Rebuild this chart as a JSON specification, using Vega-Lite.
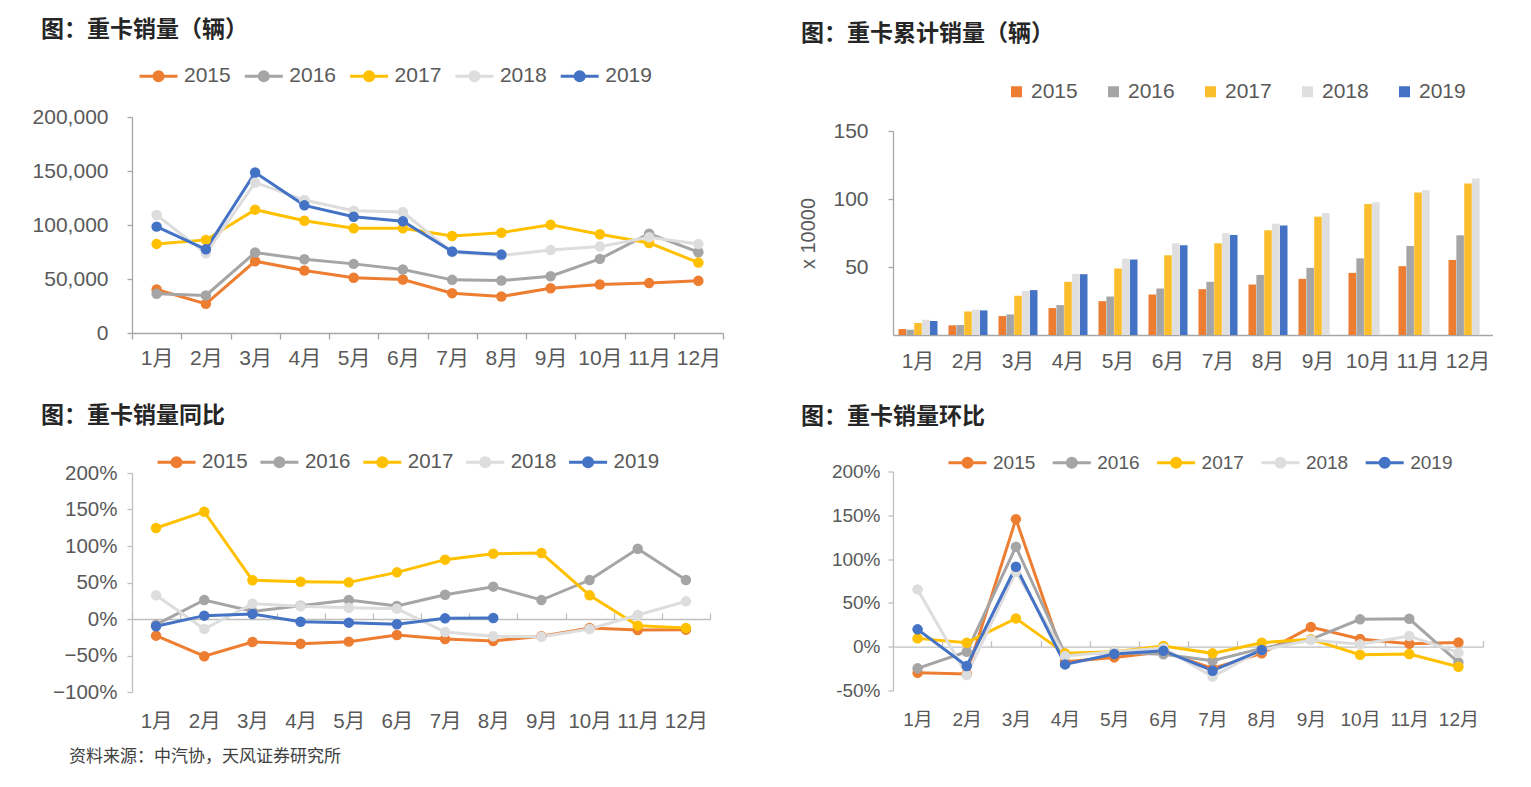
{
  "$schema": "https://vega.github.io/schema/vega-lite/v6.json",
  "background": "white",
  "padding": {"left": 32, "top": 19, "right": 0, "bottom": 0},
  "datasets": {
    "sales": [
      {"m":"1月","y":"2015","v":40300},{"m":"2月","y":"2015","v":27000},{"m":"3月","y":"2015","v":66500},{"m":"4月","y":"2015","v":57800},{"m":"5月","y":"2015","v":51100},{"m":"6月","y":"2015","v":49500},{"m":"7月","y":"2015","v":36900},{"m":"8月","y":"2015","v":33800},{"m":"9月","y":"2015","v":41500},{"m":"10月","y":"2015","v":44900},{"m":"11月","y":"2015","v":46200},{"m":"12月","y":"2015","v":48300},
      {"m":"1月","y":"2016","v":36300},{"m":"2月","y":"2016","v":34800},{"m":"3月","y":"2016","v":74500},{"m":"4月","y":"2016","v":68300},{"m":"5月","y":"2016","v":64000},{"m":"6月","y":"2016","v":58800},{"m":"7月","y":"2016","v":49200},{"m":"8月","y":"2016","v":48600},{"m":"9月","y":"2016","v":52600},{"m":"10月","y":"2016","v":68600},{"m":"11月","y":"2016","v":92000},{"m":"12月","y":"2016","v":74800},
      {"m":"1月","y":"2017","v":82500},{"m":"2月","y":"2017","v":86200},{"m":"3月","y":"2017","v":114200},{"m":"4月","y":"2017","v":104000},{"m":"5月","y":"2017","v":96900},{"m":"6月","y":"2017","v":96900},{"m":"7月","y":"2017","v":89800},{"m":"8月","y":"2017","v":92900},{"m":"9月","y":"2017","v":100300},{"m":"10月","y":"2017","v":91400},{"m":"11月","y":"2017","v":83400},{"m":"12月","y":"2017","v":65200},
      {"m":"1月","y":"2018","v":109200},{"m":"2月","y":"2018","v":73800},{"m":"3月","y":"2018","v":139400},{"m":"4月","y":"2018","v":123100},{"m":"5月","y":"2018","v":113200},{"m":"6月","y":"2018","v":112000},{"m":"7月","y":"2018","v":74800},{"m":"8月","y":"2018","v":71700},{"m":"9月","y":"2018","v":76900},{"m":"10月","y":"2018","v":80000},{"m":"11月","y":"2018","v":88600},{"m":"12月","y":"2018","v":82500},
      {"m":"1月","y":"2019","v":98500},{"m":"2月","y":"2019","v":77500},{"m":"3月","y":"2019","v":148600},{"m":"4月","y":"2019","v":118200},{"m":"5月","y":"2019","v":107700},{"m":"6月","y":"2019","v":103400},{"m":"7月","y":"2019","v":75400},{"m":"8月","y":"2019","v":72600}
    ],
    "cum": [
      {"m":"1月","y":"2015","v":4.4},{"m":"2月","y":"2015","v":7.1},{"m":"3月","y":"2015","v":13.9},{"m":"4月","y":"2015","v":19.8},{"m":"5月","y":"2015","v":24.9},{"m":"6月","y":"2015","v":29.8},{"m":"7月","y":"2015","v":33.7},{"m":"8月","y":"2015","v":37.1},{"m":"9月","y":"2015","v":41.3},{"m":"10月","y":"2015","v":45.7},{"m":"11月","y":"2015","v":50.6},{"m":"12月","y":"2015","v":55.2},
      {"m":"1月","y":"2016","v":3.9},{"m":"2月","y":"2016","v":7.3},{"m":"3月","y":"2016","v":15.1},{"m":"4月","y":"2016","v":22.0},{"m":"5月","y":"2016","v":28.3},{"m":"6月","y":"2016","v":34.2},{"m":"7月","y":"2016","v":39.1},{"m":"8月","y":"2016","v":44.2},{"m":"9月","y":"2016","v":49.4},{"m":"10月","y":"2016","v":56.4},{"m":"11月","y":"2016","v":65.5},{"m":"12月","y":"2016","v":73.3},
      {"m":"1月","y":"2017","v":8.8},{"m":"2月","y":"2017","v":17.3},{"m":"3月","y":"2017","v":28.8},{"m":"4月","y":"2017","v":39.1},{"m":"5月","y":"2017","v":48.9},{"m":"6月","y":"2017","v":58.6},{"m":"7月","y":"2017","v":67.4},{"m":"8月","y":"2017","v":77.0},{"m":"9月","y":"2017","v":87.0},{"m":"10月","y":"2017","v":96.3},{"m":"11月","y":"2017","v":104.8},{"m":"12月","y":"2017","v":111.4},
      {"m":"1月","y":"2018","v":11.2},{"m":"2月","y":"2018","v":18.6},{"m":"3月","y":"2018","v":32.5},{"m":"4月","y":"2018","v":45.0},{"m":"5月","y":"2018","v":56.2},{"m":"6月","y":"2018","v":67.4},{"m":"7月","y":"2018","v":74.8},{"m":"8月","y":"2018","v":81.8},{"m":"9月","y":"2018","v":89.7},{"m":"10月","y":"2018","v":97.7},{"m":"11月","y":"2018","v":106.5},{"m":"12月","y":"2018","v":115.0},
      {"m":"1月","y":"2019","v":10.3},{"m":"2月","y":"2019","v":18.1},{"m":"3月","y":"2019","v":33.0},{"m":"4月","y":"2019","v":44.7},{"m":"5月","y":"2019","v":55.5},{"m":"6月","y":"2019","v":66.0},{"m":"7月","y":"2019","v":73.5},{"m":"8月","y":"2019","v":80.6}
    ],
    "yoy": [
      {"m":"1月","y":"2015","v":-0.228},{"m":"2月","y":"2015","v":-0.51},{"m":"3月","y":"2015","v":-0.315},{"m":"4月","y":"2015","v":-0.338},{"m":"5月","y":"2015","v":-0.31},{"m":"6月","y":"2015","v":-0.219},{"m":"7月","y":"2015","v":-0.274},{"m":"8月","y":"2015","v":-0.301},{"m":"9月","y":"2015","v":-0.237},{"m":"10月","y":"2015","v":-0.123},{"m":"11月","y":"2015","v":-0.15},{"m":"12月","y":"2015","v":-0.146},
      {"m":"1月","y":"2016","v":-0.078},{"m":"2月","y":"2016","v":0.26},{"m":"3月","y":"2016","v":0.105},{"m":"4月","y":"2016","v":0.183},{"m":"5月","y":"2016","v":0.26},{"m":"6月","y":"2016","v":0.178},{"m":"7月","y":"2016","v":0.333},{"m":"8月","y":"2016","v":0.443},{"m":"9月","y":"2016","v":0.26},{"m":"10月","y":"2016","v":0.534},{"m":"11月","y":"2016","v":0.963},{"m":"12月","y":"2016","v":0.534},
      {"m":"1月","y":"2017","v":1.247},{"m":"2月","y":"2017","v":1.47},{"m":"3月","y":"2017","v":0.53},{"m":"4月","y":"2017","v":0.511},{"m":"5月","y":"2017","v":0.502},{"m":"6月","y":"2017","v":0.639},{"m":"7月","y":"2017","v":0.813},{"m":"8月","y":"2017","v":0.895},{"m":"9月","y":"2017","v":0.904},{"m":"10月","y":"2017","v":0.324},{"m":"11月","y":"2017","v":-0.091},{"m":"12月","y":"2017","v":-0.123},
      {"m":"1月","y":"2018","v":0.324},{"m":"2月","y":"2018","v":-0.137},{"m":"3月","y":"2018","v":0.21},{"m":"4月","y":"2018","v":0.174},{"m":"5月","y":"2018","v":0.155},{"m":"6月","y":"2018","v":0.142},{"m":"7月","y":"2018","v":-0.178},{"m":"8月","y":"2018","v":-0.237},{"m":"9月","y":"2018","v":-0.242},{"m":"10月","y":"2018","v":-0.137},{"m":"11月","y":"2018","v":0.055},{"m":"12月","y":"2018","v":0.242},
      {"m":"1月","y":"2019","v":-0.10},{"m":"2月","y":"2019","v":0.046},{"m":"3月","y":"2019","v":0.068},{"m":"4月","y":"2019","v":-0.037},{"m":"5月","y":"2019","v":-0.05},{"m":"6月","y":"2019","v":-0.073},{"m":"7月","y":"2019","v":0.009},{"m":"8月","y":"2019","v":0.014}
    ],
    "mom": [
      {"m":"1月","y":"2015","v":-0.297},{"m":"2月","y":"2015","v":-0.312},{"m":"3月","y":"2015","v":1.456},{"m":"4月","y":"2015","v":-0.171},{"m":"5月","y":"2015","v":-0.122},{"m":"6月","y":"2015","v":-0.057},{"m":"7月","y":"2015","v":-0.247},{"m":"8月","y":"2015","v":-0.076},{"m":"9月","y":"2015","v":0.224},{"m":"10月","y":"2015","v":0.087},{"m":"11月","y":"2015","v":0.034},{"m":"12月","y":"2015","v":0.049},
      {"m":"1月","y":"2016","v":-0.247},{"m":"2月","y":"2016","v":-0.057},{"m":"3月","y":"2016","v":1.14},{"m":"4月","y":"2016","v":-0.084},{"m":"5月","y":"2016","v":-0.065},{"m":"6月","y":"2016","v":-0.087},{"m":"7月","y":"2016","v":-0.16},{"m":"8月","y":"2016","v":-0.019},{"m":"9月","y":"2016","v":0.084},{"m":"10月","y":"2016","v":0.312},{"m":"11月","y":"2016","v":0.319},{"m":"12月","y":"2016","v":-0.179},
      {"m":"1月","y":"2017","v":0.095},{"m":"2月","y":"2017","v":0.046},{"m":"3月","y":"2017","v":0.323},{"m":"4月","y":"2017","v":-0.076},{"m":"5月","y":"2017","v":-0.057},{"m":"6月","y":"2017","v":0.008},{"m":"7月","y":"2017","v":-0.076},{"m":"8月","y":"2017","v":0.046},{"m":"9月","y":"2017","v":0.084},{"m":"10月","y":"2017","v":-0.091},{"m":"11月","y":"2017","v":-0.084},{"m":"12月","y":"2017","v":-0.228},
      {"m":"1月","y":"2018","v":0.654},{"m":"2月","y":"2018","v":-0.323},{"m":"3月","y":"2018","v":0.856},{"m":"4月","y":"2018","v":-0.106},{"m":"5月","y":"2018","v":-0.057},{"m":"6月","y":"2018","v":-0.015},{"m":"7月","y":"2018","v":-0.342},{"m":"8月","y":"2018","v":-0.038},{"m":"9月","y":"2018","v":0.076},{"m":"10月","y":"2018","v":0.027},{"m":"11月","y":"2018","v":0.122},{"m":"12月","y":"2018","v":-0.068},
      {"m":"1月","y":"2019","v":0.198},{"m":"2月","y":"2019","v":-0.22},{"m":"3月","y":"2019","v":0.913},{"m":"4月","y":"2019","v":-0.202},{"m":"5月","y":"2019","v":-0.084},{"m":"6月","y":"2019","v":-0.046},{"m":"7月","y":"2019","v":-0.274},{"m":"8月","y":"2019","v":-0.038}
    ]
  },
  "title": {"text": "资料来源：中汽协，天风证券研究所", "orient": "bottom", "anchor": "start", "frame": "bounds", "offset": 17, "dx": 37, "fontSize": 17, "fontWeight": "normal", "color": "#404040", "font": "Noto Sans CJK SC"},
  "columns": 2,
  "align": "none",
  "spacing": 74,
  "resolve": {"scale": {"color": "independent"}, "legend": {"color": "independent"}},
  "concat": [
    {
      "spacing": 37,
      "resolve": {"scale": {"color": "independent"}, "legend": {"color": "independent"}},
      "vconcat": [
        {
          "title": {"text": "图：重卡销量（辆）", "dx": -91, "offset": 23},
          "width": 591, "height": 216,
          "data": {"name": "sales"},
          "mark": {"type": "line", "strokeWidth": 3, "point": {"filled": true, "size": 110}},
          "encoding": {
            "x": {"field": "m", "type": "nominal", "bandPosition": 0.5,
              "scale": {"type": "band", "domain": ["1月","2月","3月","4月","5月","6月","7月","8月","9月","10月","11月","12月"], "paddingInner": 0, "paddingOuter": 0},
              "axis": {"title": null, "tickBand": "extent", "tickSize": 6, "labelPadding": 8, "labelAngle": 0}},
            "y": {"field": "v", "type": "quantitative", "scale": {"domain": [0, 200000]},
              "axis": {"title": null, "values": [0, 50000, 100000, 150000, 200000], "format": ",d", "labelPadding": 19, "tickSize": 5}},
            "color": {"field": "y", "type": "nominal",
              "scale": {"domain": ["2015","2016","2017","2018","2019"], "range": ["#ED7D31","#A5A5A5","#FFC000","#DDDDDD","#4472C4"]},
              "legend": {"title": null, "orient": "none", "direction": "horizontal", "legendX": 15.5, "legendY": -52,
                "symbolType": "M-2,0L2,0M-0.474,0A0.474,0.474,0,1,1,0.474,0A0.474,0.474,0,1,1,-0.474,0M-0.158,0A0.158,0.158,0,1,1,0.158,0A0.158,0.158,0,1,1,-0.158,0",
                "symbolSize": 361, "symbolStrokeWidth": 3, "labelOffset": 14.5, "columnPadding": 7.3}}
          }
        },
        {
          "title": {"text": "图：重卡销量同比", "dx": -91, "offset": 23},
          "width": 578, "height": 219,
          "data": {"name": "yoy"},
          "mark": {"type": "line", "strokeWidth": 3, "point": {"filled": true, "size": 110}},
          "encoding": {
            "x": {"field": "m", "type": "nominal", "bandPosition": 0.5,
              "scale": {"type": "band", "domain": ["1月","2月","3月","4月","5月","6月","7月","8月","9月","10月","11月","12月"], "paddingInner": 0, "paddingOuter": 0},
              "axis": {"title": null, "tickBand": "extent", "tickSize": -6, "offset": -73, "labelPadding": 98, "labelAngle": 0, "labelFontSize": 20.5, "domainColor": "#BFBFBF", "tickColor": "#BFBFBF"}},
            "y": {"field": "v", "type": "quantitative", "scale": {"domain": [-1, 2]},
              "axis": {"title": null, "values": [-1, -0.5, 0, 0.5, 1, 1.5, 2], "format": ".0%", "labelPadding": 10, "tickSize": 5, "labelFontSize": 20.5, "domainColor": "#BFBFBF", "tickColor": "#BFBFBF"}},
            "color": {"field": "y", "type": "nominal",
              "scale": {"domain": ["2015","2016","2017","2018","2019"], "range": ["#ED7D31","#A5A5A5","#FFC000","#DDDDDD","#4472C4"]},
              "legend": {"title": null, "orient": "none", "direction": "horizontal", "legendX": 33.5, "legendY": -22,
                "symbolType": "M-2,0L2,0M-0.474,0A0.474,0.474,0,1,1,0.474,0A0.474,0.474,0,1,1,-0.474,0M-0.158,0A0.158,0.158,0,1,1,0.158,0A0.158,0.158,0,1,1,-0.158,0",
                "symbolSize": 361, "symbolStrokeWidth": 3, "labelOffset": 14.5, "columnPadding": 5.9, "labelFontSize": 20.5}}
          }
        }
      ]
    },
    {
      "spacing": 34.5,
      "resolve": {"scale": {"color": "independent"}, "legend": {"color": "independent"}},
      "vconcat": [
        {
          "title": {"text": "图：重卡累计销量（辆）", "dx": -92, "offset": 35},
          "width": 600, "height": 218,
          "data": {"name": "cum"},
          "mark": {"type": "bar"},
          "encoding": {
            "x": {"field": "m", "type": "nominal",
              "scale": {"type": "band", "domain": ["1月","2月","3月","4月","5月","6月","7月","8月","9月","10月","11月","12月"], "paddingInner": 0.22, "paddingOuter": 0.11},
              "axis": {"title": null, "ticks": false, "labelPadding": 15, "labelAngle": 0}},
            "xOffset": {"field": "y", "type": "nominal", "scale": {"domain": ["2015","2016","2017","2018","2019"], "paddingInner": 0.04}},
            "y": {"field": "v", "type": "quantitative", "scale": {"domain": [0, 150], "rangeMax": 14},
              "axis": {"title": "x 10000", "values": [50, 100, 150], "labelPadding": 20, "tickSize": 5, "titleFontSize": 20, "titleFontWeight": "normal", "titleColor": "#595959", "titlePadding": 14, "titleFont": "Liberation Sans"}},
            "color": {"field": "y", "type": "nominal",
              "scale": {"domain": ["2015","2016","2017","2018","2019"], "range": ["#ED7D31","#A5A5A5","#FBBD2B","#DFDFDF","#4472C4"]},
              "legend": {"title": null, "orient": "none", "direction": "horizontal", "legendX": 113, "legendY": -36,
                "symbolType": "square", "symbolSize": 121, "labelOffset": 4, "columnPadding": 25}}
          }
        },
        {
          "title": {"text": "图：重卡销量环比", "dx": -92, "offset": 23},
          "width": 590, "height": 219,
          "data": {"name": "mom"},
          "mark": {"type": "line", "strokeWidth": 3, "point": {"filled": true, "size": 110}},
          "encoding": {
            "x": {"field": "m", "type": "nominal", "bandPosition": 0.5,
              "scale": {"type": "band", "domain": ["1月","2月","3月","4月","5月","6月","7月","8月","9月","10月","11月","12月"], "paddingInner": 0, "paddingOuter": 0},
              "axis": {"title": null, "tickBand": "extent", "tickSize": -6, "offset": -43.8, "labelPadding": 70, "labelAngle": 0, "labelFontSize": 19, "domainColor": "#BFBFBF", "tickColor": "#BFBFBF"}},
            "y": {"field": "v", "type": "quantitative", "scale": {"domain": [-0.5, 2]},
              "axis": {"title": null, "values": [-0.5, 0, 0.5, 1, 1.5, 2], "format": ".0%", "labelExpr": "replace(datum.label, '−', '-')", "labelPadding": 8, "tickSize": 5, "labelFontSize": 19, "domainColor": "#BFBFBF", "tickColor": "#BFBFBF"}},
            "color": {"field": "y", "type": "nominal",
              "scale": {"domain": ["2015","2016","2017","2018","2019"], "range": ["#ED7D31","#A5A5A5","#FFC000","#DDDDDD","#4472C4"]},
              "legend": {"title": null, "orient": "none", "direction": "horizontal", "legendX": 63.5, "legendY": -20,
                "symbolType": "M-2,0L2,0M-0.474,0A0.474,0.474,0,1,1,0.474,0A0.474,0.474,0,1,1,-0.474,0M-0.158,0A0.158,0.158,0,1,1,0.158,0A0.158,0.158,0,1,1,-0.158,0",
                "symbolSize": 361, "symbolStrokeWidth": 3, "labelOffset": 14.5, "columnPadding": 11.3, "labelFontSize": 19}}
          }
        }
      ]
    }
  ],
  "config": {
    "view": {"stroke": null},
    "font": "Liberation Sans, Noto Sans CJK SC",
    "axis": {"labelColor": "#595959", "labelFontSize": 21, "labelFont": "Liberation Sans, Noto Sans CJK SC", "grid": false, "domainColor": "#A6A6A6", "tickColor": "#A6A6A6", "domainWidth": 1.3, "tickWidth": 1.3},
    "legend": {"labelColor": "#595959", "labelFontSize": 21, "labelFont": "Liberation Sans, Noto Sans CJK SC"},
    "title": {"font": "Noto Sans CJK SC", "fontSize": 23, "fontWeight": "bold", "color": "#262626", "anchor": "start", "frame": "group"}
  }
}
